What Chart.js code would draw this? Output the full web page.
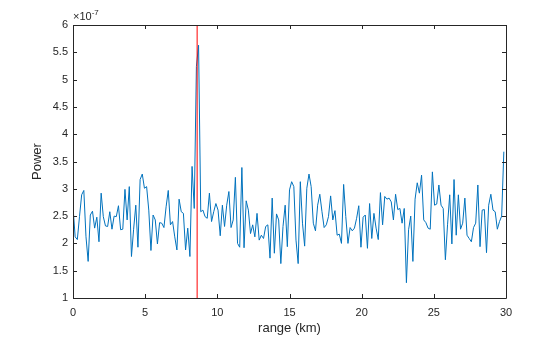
<!DOCTYPE html>
<html>
<head>
<meta charset="utf-8">
<script src="https://cdn.jsdelivr.net/npm/chart.js@4/dist/chart.umd.min.js"></script>
<style>
  html, body { margin: 0; padding: 0; background: #fff; }
  #wrap { width: 560px; height: 337px; }
</style>
</head>
<body>
<div id="wrap"><canvas id="powerChart" width="560" height="337"></canvas></div>
<script>
// received power per range bin, in units of 1e-7
const powerE7 = [
  2.67, 2.12, 2.07, 2.49, 2.89, 2.97, 2.12, 1.67, 2.52, 2.59,
  2.28, 2.48, 2.03, 2.92, 2.49, 2.32, 2.31, 2.58, 2.26, 2.50,
  2.49, 2.69, 2.25, 2.26, 2.99, 2.43, 3.04, 1.76, 2.26, 2.70,
  1.93, 3.17, 3.27, 3.01, 3.04, 2.61, 1.87, 2.52, 2.43, 1.99,
  2.38, 2.37, 2.29, 2.67, 2.97, 2.34, 2.40, 2.12, 1.88, 2.81,
  2.58, 2.55, 1.88, 2.28, 1.76, 3.41, 2.64, 5.24, 5.63, 2.58,
  2.61, 2.49, 2.46, 2.92, 2.40, 2.58, 2.73, 2.61, 2.14, 2.70,
  2.31, 2.70, 2.95, 2.29, 2.43, 3.21, 2.00, 1.93, 3.39, 1.92,
  2.78, 2.61, 2.18, 2.34, 2.12, 2.55, 2.06, 2.15, 2.09, 2.31,
  2.34, 1.73, 2.83, 1.82, 2.54, 2.43, 1.63, 2.31, 2.70, 1.94,
  2.98, 3.13, 3.04, 2.06, 1.63, 3.13, 2.37, 1.95, 3.01, 3.27,
  3.04, 2.37, 2.23, 2.70, 2.90, 2.58, 2.29, 2.34, 2.49, 2.87,
  2.43, 2.60, 2.15, 2.17, 2.00, 3.08, 2.49, 2.00, 2.29, 2.23,
  2.28, 2.46, 2.69, 1.93, 2.48, 2.52, 1.91, 2.73, 2.09, 2.55,
  2.28, 2.07, 2.93, 2.34, 2.86, 2.81, 2.83, 2.76, 2.43, 2.90,
  2.62, 2.64, 2.37, 2.64, 1.28, 2.25, 2.50, 1.67, 2.81, 3.11,
  2.92, 3.25, 2.43, 2.38, 2.28, 2.26, 3.31, 2.70, 2.72, 3.07,
  2.70, 2.64, 1.70, 2.34, 2.89, 1.99, 3.17, 2.15, 2.89, 2.26,
  2.37, 2.83, 2.15, 2.09, 2.03, 2.29, 2.37, 3.07, 1.94, 2.61,
  2.62, 1.83, 2.70, 2.90, 2.61, 2.58, 2.26, 2.40, 2.50, 3.68
];
const sampleStepKm = 0.15;
const targetRangeKm = 8.6;

const xTicks = [0, 5, 10, 15, 20, 25, 30];
const yTicks = [1, 1.5, 2, 2.5, 3, 3.5, 4, 4.5, 5, 5.5, 6];

const axisColor = '#262626';
const fontFamily = '"Liberation Sans", Arial, sans-serif';

const powerPoints = powerE7.map((p, i) => ({ x: i * sampleStepKm, y: p }));
const markerPoints = [{ x: targetRangeKm, y: yTicks[0] }, { x: targetRangeKm, y: yTicks[yTicks.length - 1] }];

// box round the axes with inward ticks on all four sides, plus the exponent label
const boxPlugin = {
  id: 'box',
  afterDraw(chart) {
    const { ctx, chartArea: a, scales: { x, y } } = chart;
    ctx.save();
    ctx.strokeStyle = axisColor;
    ctx.lineWidth = 1;
    ctx.beginPath();
    ctx.rect(Math.round(a.left) + 0.5, Math.round(a.top) + 0.5,
             Math.round(a.right - a.left), Math.round(a.bottom - a.top));
    const tl = 4;
    xTicks.forEach(v => {
      const px = Math.round(x.getPixelForValue(v)) + 0.5;
      ctx.moveTo(px, a.bottom); ctx.lineTo(px, a.bottom - tl);
      ctx.moveTo(px, a.top); ctx.lineTo(px, a.top + tl);
    });
    yTicks.forEach(v => {
      const py = Math.round(y.getPixelForValue(v)) + 0.5;
      ctx.moveTo(a.left, py); ctx.lineTo(a.left + tl, py);
      ctx.moveTo(a.right, py); ctx.lineTo(a.right - tl, py);
    });
    ctx.stroke();

    ctx.fillStyle = axisColor;
    ctx.textBaseline = 'alphabetic';
    ctx.textAlign = 'left';
    ctx.font = '11px ' + fontFamily;
    ctx.fillText('\u00d710', a.left, a.top - 5);
    const w = ctx.measureText('\u00d710').width;
    ctx.font = '8px ' + fontFamily;
    ctx.fillText('-7', a.left + w, a.top - 10);
    ctx.restore();
  }
};

new Chart(document.getElementById('powerChart'), {
  type: 'line',
  data: {
    datasets: [
      {
        data: markerPoints,
        borderColor: '#ff0000',
        borderWidth: 1,
        pointRadius: 0,
        order: 0
      },
      {
        data: powerPoints,
        borderColor: '#0072bd',
        borderWidth: 1,
        pointRadius: 0,
        tension: 0,
        order: 1
      }
    ]
  },
  options: {
    responsive: false,
    animation: false,
    layout: { padding: { left: 0, top: 25, right: 54, bottom: 0 } },
    plugins: { legend: { display: false }, tooltip: { enabled: false } },
    scales: {
      x: {
        type: 'linear',
        min: 0,
        max: 30,
        afterFit: s => { s.height = 39; },
        afterBuildTicks: s => { s.ticks = xTicks.map(v => ({ value: v })); },
        grid: { display: false, drawTicks: false },
        border: { display: false },
        ticks: { color: axisColor, padding: 8, font: { family: fontFamily, size: 11 } },
        title: {
          display: true,
          text: 'range (km)',
          color: axisColor,
          padding: { top: 0, bottom: 1 },
          font: { family: fontFamily, size: 13 }
        }
      },
      y: {
        type: 'linear',
        min: 1,
        max: 6,
        afterFit: s => { s.width = 73; },
        afterBuildTicks: s => { s.ticks = yTicks.map(v => ({ value: v })); },
        grid: { display: false, drawTicks: false },
        border: { display: false },
        ticks: {
          color: axisColor,
          padding: 5,
          font: { family: fontFamily, size: 11 },
          callback: v => String(+v.toFixed(1))
        },
        title: {
          display: true,
          text: 'Power',
          color: axisColor,
          padding: { top: 30, bottom: 0 },
          font: { family: fontFamily, size: 13 }
        }
      }
    }
  },
  plugins: [boxPlugin]
});
</script>
</body>
</html>
